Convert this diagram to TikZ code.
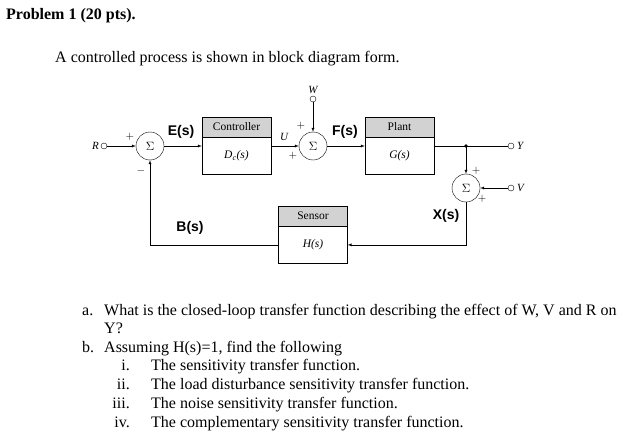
\documentclass[tikz,border=0pt]{standalone}
\usepackage{fontspec}
\setmainfont{Liberation Serif}
\newfontfamily\lsans{Liberation Sans}
\begin{document}
\begin{tikzpicture}[x=1pt,y=-1pt,
  sumnode/.style={circle,draw,minimum size=28pt,inner sep=0pt,font=\fontsize{13}{13}\selectfont},
  term/.style={circle,draw,minimum size=6pt,inner sep=0pt},
  hdr/.style={draw,fill=gray!35,minimum width=69pt,minimum height=20pt,inner sep=0pt,font=\fontsize{11.5}{11.5}\selectfont},
  bdy/.style={draw,minimum width=69pt,minimum height=37pt,inner sep=0pt,font=\fontsize{11.5}{11.5}\selectfont},
  sig/.style={font=\lsans\bfseries\fontsize{14}{14}\selectfont},
  sm/.style={font=\fontsize{11}{11}\selectfont,inner sep=0pt},
  txt/.style={font=\fontsize{16}{16}\selectfont,anchor=base west,inner sep=0pt},
  arr/.style={-latex}]
\useasboundingbox (0,0) rectangle (628,441);
\node[txt,font=\bfseries\fontsize{16}{16}\selectfont] (t0) at (6,20) {Problem 1 (20 pts).};
\node[txt] (t1) at (55,63) {A controlled process is shown in block diagram form.};
% diagram
\node[sumnode] (s1) at (150,146) {$\Sigma$};
\node[sumnode] (s2) at (313,146) {$\Sigma$};
\node[sumnode] (s3) at (466,188) {$\Sigma$};
\node[term] (r) at (104,146) {};
\node[sm,anchor=east] (rl) at (99,146) {\itshape R};
\node[term] (w) at (313,99) {};
\node[sm,anchor=south] (wl) at (313,94) {\itshape W};
\node[term] (y) at (511,146) {};
\node[sm,anchor=west] (yl) at (517,146) {\itshape Y};
\node[term] (v) at (511,188) {};
\node[sm,anchor=west] (vl) at (517,188) {\itshape V};
\coordinate (j) at (466,146);
\fill (j) circle (1.8);
\node[hdr] (ch) at (236.5,127) {Controller};
\node[bdy,anchor=north] (cb) at (ch.south) {\itshape D\textsubscript{c}(s)};
\node[hdr] (ph) at (399.5,127) {Plant};
\node[bdy,anchor=north] (pb) at (ph.south) {\itshape G(s)};
\node[hdr] (sh) at (313,216) {Sensor};
\node[bdy,anchor=north] (sb) at (sh.south) {\itshape H(s)};
\draw[arr] (r) -- (s1);
\draw[arr] (s1) -- (s1 -| cb.west);
\draw[arr] (s2 -| cb.east) -- (s2);
\draw[arr] (w) -- (s2);
\draw[arr] (s2) -- (s2 -| pb.west);
\draw (j -| pb.east) -- (j);
\draw (j) -- (y);
\draw[arr] (j) -- (s3);
\draw[arr] (v) -- (s3);
\draw[arr] (s3.south) |- (sb.east);
\draw[arr] (sb.west) -| (s1.south);
\node[sm] (p1) at (130,137) {$+$};
\node[sm] (m1) at (141,171) {$-$};
\node[sm] (p2) at (301,126) {$+$};
\node[sm] (p3) at (293,156) {$+$};
\node[sm] (u) at (284,137) {\itshape U};
\node[sm] (p4) at (476,171) {$+$};
\node[sm] (p5) at (482,199) {$+$};
\node[sig] (es) at (181,132) {E(s)};
\node[sig] (fs) at (345,132) {F(s)};
\node[sig] (bs) at (190,228) {B(s)};
\node[sig] (xs) at (446,216) {X(s)};
% questions
\node[txt] (qa) at (82,315) {a.};
\node[txt] (qat) at (104,315) {What is the closed-loop transfer function describing the effect of W, V and R on};
\node[txt] (qat2) at (104,333) {Y?};
\node[txt] (qb) at (82,352) {b.};
\node[txt] (qbt) at (104,352) {Assuming H(s)=1, find the following};
\node[txt,anchor=base east] (i1) at (130,370) {i.};
\node[txt] (i1t) at (151,370) {The sensitivity transfer function.};
\node[txt,anchor=base east] (i2) at (130,389) {ii.};
\node[txt] (i2t) at (151,389) {The load disturbance sensitivity transfer function.};
\node[txt,anchor=base east] (i3) at (130,408) {iii.};
\node[txt] (i3t) at (151,408) {The noise sensitivity transfer function.};
\node[txt,anchor=base east] (i4) at (130,427) {iv.};
\node[txt] (i4t) at (151,427) {The complementary sensitivity transfer function.};
\end{tikzpicture}
\end{document}
